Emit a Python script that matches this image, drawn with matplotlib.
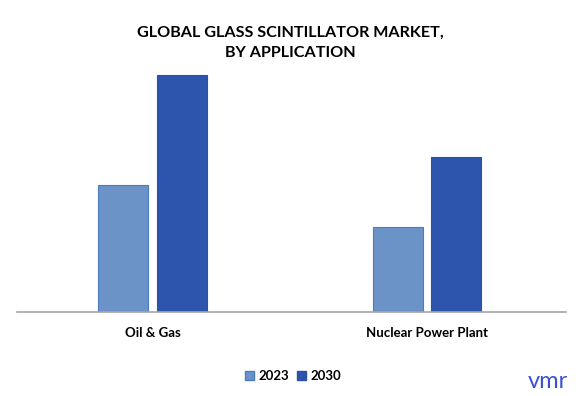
import numpy as np
import matplotlib.pyplot as plt
from matplotlib.patches import Patch

# ============================================================
# Donnees
# ============================================================

categories = ["Oil & Gas", "Nuclear Power Plant"]
years = ["2023", "2030"]
values_2023 = [1.27, 0.85]
values_2030 = [2.37, 1.55]

colors = ["#6B93C7", "#2E55AD"]
edges = ["#4B7CC2", "#2B50A6"]

plt.rcParams['font.family'] = ['Lato', 'DejaVu Sans']

# ============================================================
# Figure
# ============================================================

fig = plt.figure(figsize=(5.86, 3.96), dpi=100)
ax = fig.add_axes([17 / 586, 1 - 312 / 396, 549 / 586, 252 / 396])

x = np.arange(len(categories))
w = 0.182
off = 0.107
ax.bar(x - off, values_2023, w, color=colors[0], edgecolor=edges[0], lw=0.8, label=years[0])
ax.bar(x + off, values_2030, w, color=colors[1], edgecolor=edges[1], lw=0.8, label=years[1])

ax.set_xlim(-0.4936, 1.5064)
ax.set_ylim(0, 2.52)
ax.set_xticks(x)
ax.set_xticklabels(categories, fontsize=9.5, fontweight='bold')
ax.tick_params(axis='x', length=0, pad=11)
ax.set_yticks([])
for s in ['top', 'right', 'left']:
    ax.spines[s].set_visible(False)
ax.spines['bottom'].set_color('#A6A6A6')
ax.spines['bottom'].set_linewidth(1.2)

fig.text(0.496, 1 - 43 / 396, "GLOBAL GLASS SCINTILLATOR MARKET,\nBY APPLICATION",
         ha='center', va='center', fontsize=11.6, fontweight='bold', linespacing=1.6)

handles = [Patch(facecolor=colors[i], edgecolor=edges[i], label=years[i]) for i in range(2)]
fig.legend(handles=handles, loc='center', bbox_to_anchor=(0.5, 1 - 376 / 396), ncol=2,
           frameon=False, prop={'weight': 'bold', 'size': 9.5},
           handlelength=0.7, handleheight=0.7, handletextpad=0.3, columnspacing=0.6)

# logo
fig.text(548 / 586, 1 - 381 / 396, "vmr", ha='center', va='center', fontsize=17,
         color='#3B50D4')

fig.savefig("out.png", dpi=100)
